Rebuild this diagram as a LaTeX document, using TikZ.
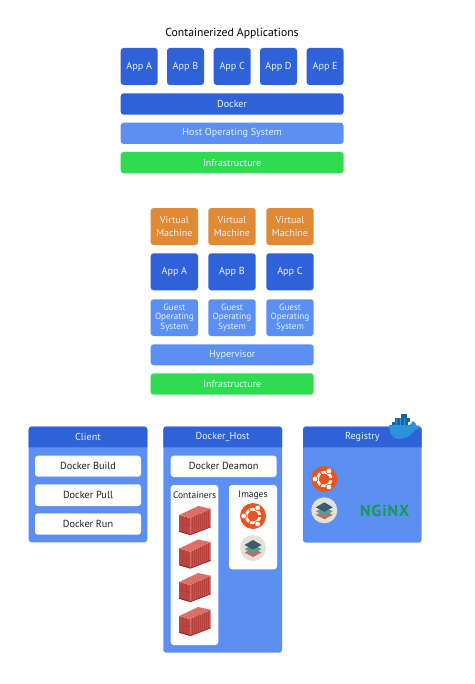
\documentclass[tikz,border=0pt]{standalone}
\usepackage{fontspec}
\setmainfont{PT Sans}
\definecolor{dk}{HTML}{2F62D9}
\definecolor{md}{HTML}{5B8FF2}
\definecolor{gr}{HTML}{2FDC50}
\definecolor{og}{HTML}{E08A35}
\definecolor{lt}{HTML}{EAF1FF}
\definecolor{ink}{HTML}{1E1E1E}
\definecolor{ub}{HTML}{E9541F}
\definecolor{wh}{HTML}{2A93DC}
\definecolor{wd}{HTML}{14679E}
\definecolor{ctop}{HTML}{DD6F66}
\definecolor{cside}{HTML}{CB504A}
\definecolor{cdoor}{HTML}{BC4540}
\definecolor{cline}{HTML}{A83632}
\definecolor{cbase}{HTML}{7E2624}
\definecolor{lbg}{HTML}{E4E1D6}
\definecolor{lred}{HTML}{C4666A}
\definecolor{lgrn}{HTML}{4FA08E}
\definecolor{lblu}{HTML}{3D5872}
\definecolor{ngx}{HTML}{179A52}
\newcommand\bx[7]{\node[#6,minimum width={(#4-#2)*0.75pt},minimum height={(#5-#3)*0.75pt}] (#1) at ({(#2+#4)/2},{(#3+#5)/2}) {#7};}
\newcommand\panel[7]{%
 \fill[md,rounded corners=2.2pt] (#2,#3) rectangle (#4,#6);
 \fill[dk] (#2,#5) [rounded corners=2.2pt] -- (#2,#3) -- (#4,#3) [sharp corners] -- (#4,#5) -- cycle;
 \node[lab] (#1) at ({(#2+#4)/2},{(#3+#5)/2}) {#7};}
\tikzset{
 x=0.75pt,y=-0.75pt,
 rb/.style={rectangle,rounded corners=2.2pt,inner sep=0pt,align=center},
 lab/.style={inner sep=0pt,text=lt,font=\fontsize{7.6}{9.5}\selectfont},
 darkbox/.style={rb,fill=dk,text=lt,font=\fontsize{7.6}{9.5}\selectfont},
 midbox/.style={rb,fill=md,text=lt,font=\fontsize{7.6}{9.5}\selectfont},
 guestbox/.style={rb,fill=md,text=lt,font=\fontsize{6.8}{7.3}\selectfont},
 greenbox/.style={rb,fill=gr,text=lt,font=\fontsize{7.5}{9.5}\selectfont},
 vmbox/.style={rb,fill=og,text=lt,font=\fontsize{7.5}{9.5}\selectfont},
 whitebox/.style={rb,fill=white,text=ink,font=\fontsize{7.7}{9.5}\selectfont},
 caplabel/.style={inner sep=0pt,text=ink,font=\fontsize{7.1}{9}\selectfont},
 container/.pic={
  \fill[cdoor] (2,9) -- (13.3,12.3) -- (13.3,29) -- (2,25.7) -- cycle;
  \fill[cside] (13.3,12.3) -- (33.3,2.7) -- (33.3,21.3) -- (13.3,29) -- cycle;
  \fill[ctop] (2,9) -- (21,0) -- (33.3,2.7) -- (13.3,12.3) -- cycle;
  \fill[cbase] (13.3,29) -- (33.3,21.3) -- (33.3,20.5) -- (13.3,28.2) -- cycle;
  \fill[cbase] (2,25.7) -- (13.3,29) -- (13.3,28.2) -- (2,24.9) -- cycle;
  \draw[cline,line width=.25pt] (5.8,10.1) -- (5.8,26.8) (9.6,11.2) -- (9.6,27.9)
    (2,16.5) -- (13.3,19.8);
  \foreach \k in {1,...,9} \draw[cline!60!cside,line width=.2pt]
    ({13.3+2*\k},{12.3-.96*\k}) -- ({13.3+2*\k},{29-.77*\k});
 },
 ubuntu/.pic={
  \fill[ub] (0,0) circle (13);
  \draw[white,line width=2pt] (0,0) circle (6.8);
  \foreach \a in {0,120,240} \draw[ub,line width=.8pt] (\a:4) -- (\a:9);
  \foreach \a in {60,180,300} {\fill[ub] (\a:9.3) circle (3.3); \fill[white] (\a:9.3) circle (2.4);}
 },
 layers/.pic={
  \fill[lbg] (0,0) circle (13);
  \fill[lred] (-8.5,4.5) -- (0,.5) -- (8.5,4.5) -- (0,9) -- cycle;
  \fill[lgrn] (-8.5,1) -- (0,-3) -- (8.5,1) -- (0,5.5) -- cycle;
  \fill[lblu] (-8.5,-3) -- (0,-8) -- (8.5,-3) -- (0,1.5) -- cycle;
 },
}
\begin{document}
\begin{tikzpicture}
\useasboundingbox (0,0) rectangle (474,684);
\fill[white] (0,0) rectangle (474,684);
% top stack
\node[inner sep=0pt,text=black,font=\fontsize{8.75}{11}\selectfont] (title) at (232,34) {Containerized Applications};
\bx{a1}{120.7}{48}{157.7}{85}{darkbox}{App A}
\bx{b1}{167}{48}{204}{85}{darkbox}{App B}
\bx{c1}{213.7}{48}{250.7}{85}{darkbox}{App C}
\bx{d1}{260}{48}{297}{85}{darkbox}{App D}
\bx{e1}{306.7}{48}{343.5}{85}{darkbox}{App E}
\bx{docker}{120.7}{93.3}{343.5}{114.7}{darkbox}{Docker}
\bx{host}{120.7}{122.7}{343.5}{144}{midbox}{Host Operating System}
\bx{infra1}{120.7}{152}{343.5}{173.3}{greenbox}{Infrastructure}
% vm stack
\bx{vm1}{150.7}{208}{198}{245}{vmbox}{Virtual\\Machine}
\bx{vm2}{208.3}{208}{255.7}{245}{vmbox}{Virtual\\Machine}
\bx{vm3}{266.3}{208}{313.7}{245}{vmbox}{Virtual\\Machine}
\bx{a2}{150.7}{253.3}{198}{290.3}{darkbox}{App A}
\bx{b2}{208.3}{253.3}{255.7}{290.3}{darkbox}{App B}
\bx{c2}{266.3}{253.3}{313.7}{290.3}{darkbox}{App C}
\bx{g1}{150.7}{299.3}{198}{336}{guestbox}{Guest\\Operating\\System}
\bx{g2}{208.3}{299.3}{255.7}{336}{guestbox}{Guest\\Operating\\System}
\bx{g3}{266.3}{299.3}{313.7}{336}{guestbox}{Guest\\Operating\\System}
\bx{hyper}{150.7}{344.3}{313.7}{365.3}{midbox}{Hypervisor}
\bx{infra2}{150.7}{373.3}{313.7}{394.7}{greenbox}{Infrastructure}
% client
\panel{client}{28.7}{426.5}{147.3}{447.3}{542.3}{Client}
\bx{build}{35}{455.7}{141}{476.7}{whitebox}{Docker Build}
\bx{pull}{35}{484.3}{141}{506}{whitebox}{Docker Pull}
\bx{run}{35}{513.3}{141}{534.7}{whitebox}{Docker Run}
% docker host
\panel{dhost}{163.3}{426.5}{282}{447.3}{652.7}{Docker\_Host}
\bx{deamon}{170.7}{455.7}{276.7}{477}{whitebox}{Docker Deamon}
\bx{contbox}{170.7}{485}{218.3}{645}{whitebox}{}
\bx{imgbox}{229}{485}{277}{569.3}{whitebox}{}
\node[caplabel] (contlab) at (194.5,495) {Containers};
\node[caplabel] (imglab) at (253,495) {Images};
\pic at (177.2,506) {container};
\pic at (177.2,539.5) {container};
\pic at (177.2,573) {container};
\pic at (177.2,607) {container};
\pic at (253,516) {ubuntu};
\pic at (253,548) {layers};
% registry
\panel{reg}{303}{426.5}{421.7}{447.3}{542.7}{Registry}
\pic at (324.3,479) {ubuntu};
\pic at (324.3,510.3) {layers};
\node[inner sep=0pt,text=ngx,font=\fontsize{12}{12}\bfseries\addfontfeature{LetterSpace=6}] (nginx) at (384.7,510.8) {NGiNX};
% whale
\fill[wh] (389,425) -- (410,425) .. controls (411,424) and (412,422.5) .. (413,421)
  .. controls (415,422) and (416,424) .. (416.5,425.5) .. controls (418,425) and (420,426) .. (421,427.5)
  .. controls (419,429) and (417,429.5) .. (415.5,429.5) .. controls (412,435) and (406,439) .. (399,439)
  .. controls (392,439) and (388.5,432) .. (389,425) -- cycle;
\fill[wd] (392,421.5) rectangle (407.5,425);
\fill[wd] (395,418) rectangle (410,421.5);
\fill[wd] (401,414) rectangle (407,418);
\foreach \u in {396,400,404} \draw[wh,line width=.25pt] (\u,418) -- (\u,425);
\end{tikzpicture}
\end{document}
